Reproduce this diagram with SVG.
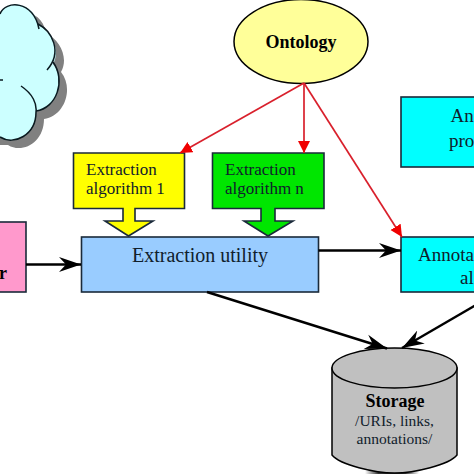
<svg xmlns="http://www.w3.org/2000/svg" width="474" height="474" viewBox="0 0 474 474">
<defs>
<style>
.box{stroke:#1a2a3a;stroke-width:1.6}
.t{font-family:"Liberation Serif","Times New Roman",serif;fill:#10202c}
.b{font-family:"Liberation Serif","Times New Roman",serif;font-weight:bold;font-size:18px;fill:#000}
.k{fill:none;stroke:#000;stroke-width:2.4}
.rd{fill:none;stroke:#d9202c;stroke-width:1.7}
.cl{fill:none;stroke:#0a1a20;stroke-width:1.5}
</style>
<marker id="ah" markerUnits="userSpaceOnUse" markerWidth="24" markerHeight="18" refX="22" refY="8" orient="auto"><path d="M0,0.5 L22,8 L0,15.5 L7,8 Z" fill="#000"/></marker>
<marker id="rh" markerUnits="userSpaceOnUse" markerWidth="14" markerHeight="14" refX="12" refY="6" orient="auto"><path d="M0,0 L12,6 L0,12 Z" fill="#f00000"/></marker>
<linearGradient id="sh" x1="0" x2="1" y1="0" y2="0"><stop offset="0" stop-color="#fff"/><stop offset=".25" stop-color="#333"/><stop offset=".75" stop-color="#333"/><stop offset="1" stop-color="#fff"/></linearGradient>
<path id="cloudshape" d="M-20,20 C-10,14 -4,14 0,14 C5,0 34,0 38,25 C52,32 61,50 53,64 C66,80 57,108 36,111 C36,135 14,146 0,137 L-20,137 Z"/>
</defs>
<rect width="474" height="474" fill="#fff"/>
<g id="cloud">
<use href="#cloudshape" x="8" y="8" fill="#808080"/>
<use href="#cloudshape" fill="#ccffff"/>
<path class="cl" d="M0,14 C5,0 34,0 39,29"/>
<path class="cl" d="M38,24 C52,31 63,52 47,70"/>
<path class="cl" d="M53,62 C66,80 57,108 36,111"/>
<path class="cl" d="M21,86 C33,94 37,104 36,112 C36,135 14,146 0,137"/>
<path class="cl" d="M0,80 L3,80"/>
</g>
<g id="ontology">
<rect x="280" y="0" width="43" height="3" fill="url(#sh)"/>
<ellipse cx="301" cy="41.500" rx="67" ry="42" fill="#ffff99" stroke="#000" stroke-width="1.500"/>
<text class="b" x="301" y="48" text-anchor="middle">Ontology</text>
</g>
<g id="algorithm-1">
<path class="box" d="M73.500,153 H184.500 V208.500 H135 V221 H153 L128.500,236 L105,221 H123 V208.500 H73.500 Z" fill="#ffff00"/>
<text class="t" font-size="17" x="86" y="175">Extraction</text>
<text class="t" font-size="17" x="86" y="194">algorithm 1</text>
</g>
<g id="algorithm-n">
<path class="box" d="M212.500,153 H324 V208.500 H275 V221 H293 L268,236 L244,221 H261 V208.500 H212.500 Z" fill="#00e600"/>
<text class="t" font-size="17" x="225" y="175">Extraction</text>
<text class="t" font-size="17" x="225" y="194">algorithm n</text>
</g>
<g id="extraction-utility">
<rect class="box" x="81.500" y="237" width="237" height="55" fill="#99ccff"/>
<text class="t" font-size="20" x="200" y="262" text-anchor="middle">Extraction utility</text>
</g>
<g id="pink-node">
<rect class="box" x="-10" y="222" width="36" height="70" fill="#ff99cc"/>
<text class="b" x="-1" y="279">r</text>
</g>
<g id="proposal-node">
<rect class="box" x="401" y="97" width="90" height="70" fill="#00ffff"/>
<text class="t" font-size="19" x="450.500" y="122">An</text>
<text class="t" font-size="19" x="449" y="147">pro</text>
</g>
<g id="annotation-node">
<rect class="box" x="401" y="237" width="90" height="55" fill="#00ffff"/>
<text class="t" font-size="19" x="418" y="261">Annota</text>
<text class="t" font-size="19" x="460" y="284">al</text>
</g>
<g id="storage">
<rect x="365" y="471" width="54" height="3" fill="url(#sh)"/>
<path d="M332,368 V455 C340,465 375,473 394.500,473 C414,473 449,465 457,455 V368 Z" fill="#c0c0c0" stroke="#000" stroke-width="1.500"/>
<ellipse cx="394.500" cy="368" rx="62.500" ry="20" fill="#c0c0c0" stroke="#000" stroke-width="1.500"/>
<text class="b" x="395" y="407" text-anchor="middle">Storage</text>
<text class="t" font-size="15.500" x="394.500" y="426" text-anchor="middle">/URIs, links,</text>
<text class="t" font-size="15.500" x="394.500" y="444" text-anchor="middle">annotations/</text>
</g>
<g id="connectors">
<path class="k" marker-end="url(#ah)" d="M26,264.500 H81"/>
<path class="k" marker-end="url(#ah)" d="M318.500,250.500 H401"/>
<path class="k" marker-end="url(#ah)" d="M207,292 L387,348.500"/>
<path class="k" marker-end="url(#ah)" d="M476,305 L402,348"/>
<path class="rd" marker-end="url(#rh)" d="M304,83 L180,153"/>
<path class="rd" marker-end="url(#rh)" d="M304,83 V153"/>
<path class="rd" marker-end="url(#rh)" d="M304,83 L402,237"/>
</g>
</svg>
